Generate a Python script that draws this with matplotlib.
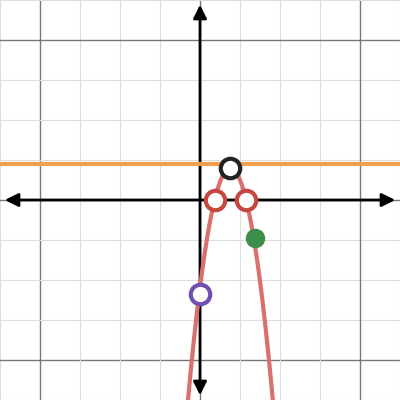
import matplotlib
matplotlib.use("Agg")
import matplotlib.pyplot as plt
import numpy as np

# parabola y = k - a (x - h)^2
vertex_h = 0.76
vertex_k = 0.8
curve_a = 5.16
horizontal_y = 0.9
red_roots_x = [vertex_h - np.sqrt(vertex_k / curve_a), vertex_h + np.sqrt(vertex_k / curve_a)]
black_point = (vertex_h, vertex_k)
purple_point = (0.0, -2.35)
green_point = (1.375, -0.95)


def main():
    fig = plt.figure(figsize=(4, 4), dpi=100)
    ax = fig.add_axes([0, 0, 1, 1])
    ax.set_xlim(-5, 5)
    ax.set_ylim(-5, 5)
    ax.axis("off")

    for v in range(-5, 6):
        major = v % 4 == 0
        c = "#777777" if major else "#dddddd"
        lw = 1.0 if major else 0.8
        ax.axvline(v, color=c, lw=lw, zorder=0)
        ax.axhline(v, color=c, lw=lw, zorder=0)

    ax.annotate("", xy=(4.95, 0), xytext=(-4.95, 0),
                arrowprops=dict(arrowstyle="<|-|>", color="black", lw=2, mutation_scale=20))
    ax.annotate("", xy=(0, 4.95), xytext=(0, -4.95),
                arrowprops=dict(arrowstyle="<|-|>", color="black", lw=2, mutation_scale=20))

    ax.axhline(horizontal_y, color="#f0a04b", lw=3, zorder=3)

    x = np.linspace(-1, 2.5, 400)
    y = vertex_k - curve_a * (x - vertex_h) ** 2
    ax.plot(x, y, color="#d9706c", lw=3, zorder=4)

    ms = dict(ms=14, mew=3, mfc="white", zorder=5)
    for rx in red_roots_x:
        ax.plot(rx, 0, "o", mec="#c7463f", **ms)
    ax.plot(*black_point, "o", mec="#222222", **ms)
    ax.plot(*purple_point, "o", mec="#6f4fb0", **ms)
    ax.plot(*green_point, "o", color="#3d8c4a", ms=13, zorder=5)

    fig.savefig("out.png", dpi=100)


if __name__ == "__main__":
    main()
